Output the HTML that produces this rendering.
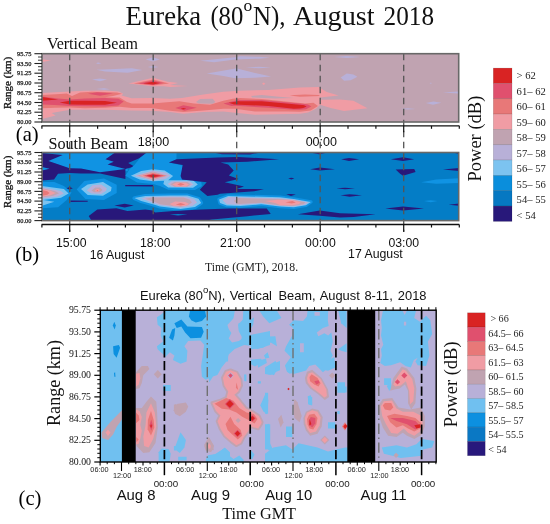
<!DOCTYPE html>
<html lang="en"><head><meta charset="utf-8"><title>Eureka (80N), August 2018</title>
<style>html,body{margin:0;padding:0;background:#fff}svg{display:block}</style></head>
<body>
<svg width="550" height="524" viewBox="0 0 550 524">
<rect width="550" height="524" fill="#fff"/>
<defs>
<clipPath id="clipA"><rect x="42.0" y="53.7" width="416.7" height="68.3"/></clipPath>
<clipPath id="clipB"><rect x="42.0" y="152.5" width="416.7" height="68.1"/></clipPath>
<clipPath id="clipC"><rect x="100.3" y="310.2" width="335.9" height="151.8"/></clipPath>
</defs>
<text x="125.6" y="25.3" font-family='"Liberation Serif", serif' font-size="28.00" text-anchor="start" fill="#111" textLength="75.6" lengthAdjust="spacingAndGlyphs">Eureka</text>
<text x="210.4" y="25.3" font-family='"Liberation Serif", serif' font-size="28.00" text-anchor="start" fill="#111" textLength="32.9" lengthAdjust="spacingAndGlyphs">(80</text>
<text x="253.0" y="25.3" font-family='"Liberation Serif", serif' font-size="28.00" text-anchor="start" fill="#111" textLength="32.6" lengthAdjust="spacingAndGlyphs">N),</text>
<text x="293.0" y="25.3" font-family='"Liberation Serif", serif' font-size="28.00" text-anchor="start" fill="#111" textLength="81.7" lengthAdjust="spacingAndGlyphs">August</text>
<text x="383.6" y="25.3" font-family='"Liberation Serif", serif' font-size="28.00" text-anchor="start" fill="#111" textLength="50.4" lengthAdjust="spacingAndGlyphs">2018</text>
<text x="243.6" y="10.9" font-family='"Liberation Serif", serif' font-size="17.50" text-anchor="start" fill="#111">o</text>
<g clip-path="url(#clipA)">
<rect x="42.0" y="53.7" width="416.7" height="68.3" fill="#c0a3b1"/>
<polygon points="98.0,62.6 101.5,63.3 98.0,63.9 96.0,63.3" fill="#b8b0d8" />
<polygon points="96.5,69.8 110.0,69.3 131.7,68.3 142.4,70.0 127.7,72.7 105.0,71.5" fill="#b8b0d8" />
<polygon points="92.0,79.6 100.0,78.6 107.0,79.6 100.0,81.2" fill="#b8b0d8" />
<polygon points="96.0,89.0 104.0,88.0 110.0,89.2 104.0,90.0" fill="#b8b0d8" opacity="0.8"/>
<polygon points="145.7,59.5 153.0,57.2 159.8,59.5 153.0,61.5" fill="#b8b0d8" />
<polygon points="147.7,67.0 153.0,66.0 158.4,67.0 153.0,68.0" fill="#b8b0d8" />
<polygon points="200.1,60.7 240.0,56.8 240.0,56.8 235.0,56.0 259.0,56.8 269.7,57.7 259.0,58.7 235.0,59.5 214.1,62.3" fill="#b8b0d8" />
<polygon points="245.7,67.6 259.0,66.8 271.1,67.5 259.0,68.3" fill="#b8b0d8" />
<polygon points="206.7,73.4 240.0,67.8 235.0,68.0 251.0,72.0 271.1,76.6 255.0,77.8 235.0,78.2 223.4,76.0" fill="#b8b0d8" />
<polygon points="334.1,57.1 346.8,56.0 360.1,57.1 346.8,58.1" fill="#b8b0d8" />
<polygon points="340.7,77.4 346.8,73.6 353.4,74.4 357.4,76.7 350.8,80.3 344.1,80.7" fill="#b8b0d8" />
<polygon points="425.8,103.0 433.5,101.4 441.4,102.8 433.0,104.8" fill="#b8b0d8" />
<polygon points="400.0,108.9 408.0,108.3 415.6,108.9 408.0,109.5" fill="#b8b0d8" />
<polygon points="442.7,92.6 458.0,91.6 458.0,93.5" fill="#b8b0d8" />
<polygon points="429.5,83.2 430.8,82.4 432.0,83.2 430.8,84.0" fill="#b8b0d8" opacity="0.7"/>
<polygon points="41.0,59.0 51.0,60.5 41.0,62.2" fill="#f09ca4" />
<polygon points="262.0,83.8 263.7,82.6 265.4,83.8 263.7,85.0" fill="#f09ca4" />
<polygon points="128.4,83.4 153.1,77.8 167.8,81.7 175.0,82.5 178.0,83.0 170.0,84.9 187.4,86.1 170.0,87.1 163.8,86.2 153.1,86.3" fill="#f09ca4" />
<polygon points="133.7,83.4 153.1,79.4 169.1,83.4 153.1,85.4" fill="#e87878" />
<polygon points="138.4,83.4 153.1,80.6 163.8,83.1 153.1,84.9" fill="#e0506e" />
<polygon points="143.1,83.3 153.1,81.7 159.8,83.0 153.1,84.5" fill="#d92323" />
<polygon points="41.0,93.0 70.0,91.6 84.0,90.8 105.0,90.6 119.0,91.6 123.2,93.7 121.5,95.5 131.7,98.3 151.8,98.0 170.0,98.8 182.0,98.1 203.4,94.5 223.4,91.8 240.0,90.7 268.4,90.0 300.0,87.4 318.7,87.0 326.7,92.0 338.7,95.5 320.0,97.4 321.4,99.8 340.0,99.4 353.4,100.8 367.5,108.3 344.0,111.0 330.7,108.1 320.0,104.8 316.0,108.8 308.0,112.4 300.0,113.7 288.4,114.1 255.0,114.8 235.0,112.8 223.4,111.4 203.4,112.1 183.4,113.7 170.0,112.1 151.8,110.8 131.7,110.6 105.0,109.8 70.0,109.8 51.6,113.1 55.6,115.6 41.0,119.2" fill="#f09ca4" />
<polygon points="196.0,102.1 200.1,99.0 212.7,98.8 215.4,102.1 212.7,103.8 198.7,103.4" fill="#c0a3b1" />
<polygon points="251.0,96.1 261.7,95.0 279.1,96.8 293.8,98.1 275.1,98.5 252.4,97.4" fill="#c0a3b1" />
<polygon points="41.0,95.0 60.0,94.0 66.7,93.4 72.0,96.0 80.0,92.6 92.0,91.8 105.0,92.0 117.0,92.6 122.0,93.7 113.0,96.0 105.0,97.2 119.7,97.4 127.0,102.1 131.7,103.4 151.8,103.4 170.0,102.1 179.4,101.2 194.0,103.4 210.0,104.8 223.4,100.8 232.8,98.8 240.0,98.1 261.7,99.0 305.0,103.4 313.4,102.8 318.0,106.1 310.7,110.5 300.0,111.7 288.4,111.4 255.0,111.4 235.0,108.8 223.4,108.8 203.4,110.4 183.4,112.1 170.0,110.8 151.8,108.1 131.7,108.1 119.7,106.8 105.0,107.8 85.0,108.2 70.0,107.6 55.0,107.8 41.0,108.4" fill="#e87878" />
<polygon points="289.8,95.3 305.0,94.5 318.7,95.0 320.0,96.1 300.0,96.8 293.8,96.1" fill="#e87878" />
<polygon points="41.0,96.5 58.0,98.6 70.0,99.5 85.0,98.5 105.0,98.1 118.4,98.8 123.7,101.4 118.4,105.5 105.0,106.5 85.0,106.3 70.0,106.0 55.0,105.0 41.0,104.5" fill="#e0506e" />
<polygon points="88.0,93.8 97.0,92.2 113.0,93.6 100.0,95.8" fill="#e0506e" />
<polygon points="175.3,108.1 183.4,105.2 196.7,107.8 184.7,110.8" fill="#e0506e" />
<polygon points="223.4,103.4 240.0,99.4 235.0,99.4 261.7,100.1 305.0,104.1 308.0,104.4 311.4,106.5 306.0,109.2 300.0,109.8 293.8,109.7 268.4,107.8 235.0,105.7 231.4,106.1" fill="#e0506e" />
<polygon points="41.0,96.9 58.2,99.4 41.0,100.8" fill="#d92323" />
<polygon points="59.6,102.5 69.8,100.7 85.0,100.8 105.0,100.9 117.0,102.8 105.0,104.8 85.0,104.8 69.8,104.4" fill="#d92323" />
<polygon points="180.7,108.8 183.4,108.0 186.3,108.8 183.4,109.6" fill="#d92323" />
<polygon points="228.8,102.8 240.0,100.9 235.0,101.2 261.7,101.2 305.0,105.2 304.0,105.3 306.7,106.5 303.3,108.1 300.0,108.5 293.8,108.8 268.4,106.1 235.0,104.4 234.1,104.4" fill="#d92323" />
</g>
<g clip-path="url(#clipB)">
<rect x="42.0" y="152.5" width="416.7" height="68.1" fill="#047dc6"/>
<polygon points="42.9,153.4 127.8,153.4 127.8,171.0 99.9,172.5 81.0,169.1 69.6,168.7 59.1,164.9 48.6,161.5 42.9,161.5" fill="#1093e3" />
<polygon points="41.9,182.1 54.3,182.1 63.9,185.9 71.5,192.4 66.7,200.0 58.1,207.3 41.9,208.2" fill="#1093e3" />
<polygon points="76.7,189.5 84.3,181.1 104.0,178.6 116.7,184.7 116.7,193.1 104.0,200.0 85.4,198.9" fill="#1093e3" />
<polygon points="41.9,185.9 63.9,189.1 68.6,193.5 61.0,197.7 42.9,200.0 54.3,201.7 41.9,205.7" fill="#7cc3f0" />
<polygon points="41.9,187.2 61.0,191.0 63.9,193.5 57.2,196.8 41.9,198.7" fill="#b8b0d8" />
<polygon points="41.9,188.2 54.9,190.9 59.1,193.3 53.4,195.8 41.9,197.5" fill="#c0a3b1" />
<polygon points="41.9,188.9 50.5,190.7 55.7,193.1 50.5,195.2 41.9,196.8" fill="#f09ca4" />
<polygon points="41.9,190.1 47.3,191.2 49.5,193.1 47.3,194.7 41.9,195.8" fill="#e87878" />
<polygon points="81.0,189.1 87.7,184.4 103.0,182.1 111.6,187.2 111.0,191.0 103.0,195.8 87.7,194.9" fill="#7cc3f0" />
<polygon points="86.8,190.5 92.5,185.3 101.1,184.4 106.8,188.2 105.9,191.0 101.1,193.9 91.5,193.5" fill="#b8b0d8" />
<polygon points="91.5,190.5 95.4,187.4 99.9,187.4 102.6,190.1 99.9,192.2 94.2,192.2" fill="#c0a3b1" />
<polygon points="94.8,190.7 96.9,189.1 98.8,189.3 99.8,190.5 98.2,191.4 95.9,191.4" fill="#f09ca4" />
<polygon points="96.5,190.7 97.5,190.1 98.4,190.7 97.5,191.2" fill="#e87878" />
<polygon points="41.0,153.0 62.7,155.0 48.4,161.0 58.0,164.3 69.6,168.3 81.0,168.6 100.0,172.2 125.4,169.0 107.6,164.4 113.7,161.7 105.5,159.3 115.1,152.5 146.7,152.5 139.2,158.2 128.2,163.0 134.4,166.5 125.4,169.0 125.4,179.1 100.0,173.4 81.0,173.4 69.6,173.0 58.0,173.8 54.0,179.4 41.0,180.5" fill="#28187a" />
<polygon points="41.0,166.8 49.5,168.7 41.0,170.6" fill="#1093e3" />
<polygon points="66.6,188.2 69.6,186.9 72.8,188.2 69.6,189.6" fill="#28187a" />
<polygon points="70.5,200.6 87.7,200.7 87.7,201.8 70.5,201.9" fill="#28187a" />
<polygon points="125.2,185.0 153.0,185.1 153.0,186.4 125.2,186.3" fill="#28187a" />
<polygon points="114.4,205.6 124.7,203.8 133.7,205.6 124.7,207.5" fill="#28187a" />
<polygon points="125.4,175.8 129.5,169.2 134.4,165.1 139.8,158.2 146.7,152.7 176.5,152.7 176.5,159.6 168.9,162.6 182.7,165.4 181.3,176.1 182.7,179.4 201.2,181.9 201.9,186.0 195.0,190.1 168.2,189.8 160.0,186.0 152.9,184.1 137.1,182.4" fill="#1093e3" />
<polygon points="130.9,175.8 141.2,170.9 152.9,169.2 164.6,170.6 168.2,172.7 173.1,176.1 168.2,180.2 193.0,180.2 197.8,184.4 193.0,187.8 168.2,187.4 163.4,183.9 164.1,180.9 164.6,180.8 152.9,181.3 139.8,179.5" fill="#7cc3f0" />
<polygon points="134.4,175.8 152.9,170.9 168.7,175.4 152.9,180.5" fill="#b8b0d8" />
<polygon points="134.4,175.8 152.9,170.6 166.2,172.7 170.3,175.7 165.5,179.1 152.9,180.8" fill="#b8b0d8" />
<polygon points="137.1,175.8 152.9,171.6 167.6,175.7 152.9,180.0" fill="#c0a3b1" />
<polygon points="139.8,175.8 152.9,172.4 165.2,175.7 152.9,179.3" fill="#f09ca4" />
<polygon points="142.6,175.8 152.9,173.1 166.2,175.8 152.9,178.6" fill="#e87878" />
<polygon points="144.7,175.8 152.9,173.8 163.5,175.8 152.9,177.9" fill="#e0506e" />
<polygon points="146.7,175.8 152.9,174.5 160.7,175.8 152.9,177.3" fill="#d92323" />
<polygon points="167.6,184.1 171.7,181.3 189.5,181.3 193.7,184.4 189.5,187.1 171.7,186.8" fill="#b8b0d8" />
<polygon points="170.3,184.2 174.4,181.9 187.5,182.0 190.9,184.4 187.5,186.8 174.4,186.7" fill="#c0a3b1" />
<polygon points="172.4,184.4 176.2,182.6 185.8,182.7 188.9,184.4 185.8,186.4 176.2,186.4" fill="#f09ca4" />
<polygon points="177.2,184.4 180.6,183.0 184.7,184.4 180.6,185.7" fill="#e87878" />
<polygon points="134.4,198.1 145.3,196.0 170.0,195.4 187.5,195.6 198.5,198.8 201.2,202.9 195.0,207.0 180.6,209.1 160.0,206.6 152.9,204.3 141.2,201.1" fill="#1093e3" stroke="#1093e3" stroke-width="4" stroke-linejoin="round"/>
<polygon points="134.4,198.1 145.3,196.0 170.0,195.4 187.5,195.6 198.5,198.8 201.2,202.9 195.0,207.0 180.6,209.1 160.0,206.6 152.9,204.3 141.2,201.1" fill="#7cc3f0" />
<polygon points="141.2,198.8 146.7,197.0 170.0,196.5 186.1,196.7 194.4,199.2 197.1,202.5 192.3,206.1 180.6,207.7 160.0,205.2 152.9,202.9 146.7,200.6" fill="#b8b0d8" />
<polygon points="145.3,198.8 152.0,197.6 170.0,197.4 183.4,197.5 189.5,199.5 191.9,202.5 188.2,205.2 180.6,206.9 160.0,204.3 155.0,201.9" fill="#c0a3b1" />
<polygon points="169.6,203.9 175.1,201.5 185.4,201.9 189.1,203.9 185.4,206.1 173.7,206.1" fill="#f09ca4" />
<polygon points="175.8,204.5 180.6,202.9 185.4,204.5 180.6,205.6" fill="#e87878" />
<polygon points="219.1,199.5 228.2,196.0 280.0,197.2 293.7,198.9 310.9,201.9 306.0,205.2 293.7,207.3 280.0,206.6 261.2,204.3 240.6,206.1 226.9,205.6 220.0,203.0" fill="#1093e3" stroke="#1093e3" stroke-width="3.5" stroke-linejoin="round"/>
<polygon points="219.1,199.5 228.2,196.0 280.0,197.2 293.7,198.9 310.9,201.9 306.0,205.2 293.7,207.3 280.0,206.6 261.2,204.3 240.6,206.1 226.9,205.6 220.0,203.0" fill="#7cc3f0" />
<polygon points="222.7,200.6 228.2,197.1 280.0,198.3 293.7,199.5 308.2,202.2 305.4,204.7 293.7,206.6 280.0,206.1 261.2,203.3 240.6,205.0 226.9,204.3" fill="#b8b0d8" />
<polygon points="233.7,201.1 237.9,198.1 280.0,199.0 293.0,199.9 305.4,202.2 303.4,204.3 293.0,206.1 280.0,205.5 261.2,202.8 237.9,203.9" fill="#c0a3b1" />
<polygon points="265.3,201.1 277.7,199.7 292.4,200.3 300.6,201.9 299.2,203.9 292.4,205.2 280.0,205.0 275.0,202.9" fill="#f09ca4" />
<polygon points="285.5,202.2 292.4,201.1 295.8,202.5 291.7,203.6" fill="#e87878" />
<polygon points="168.9,162.4 176.5,159.3 194.4,158.5 217.7,157.6 237.9,156.9 279.1,159.3 247.5,161.7 220.5,162.6 228.2,164.4 233.7,170.6 228.9,175.4 238.5,178.9 224.8,182.3 244.0,186.4 236.5,188.9 264.0,189.2 254.4,191.2 220.0,193.7 217.7,194.7 207.4,196.0 199.8,189.8 206.7,182.3 182.0,179.5 180.6,176.1 182.7,165.1" fill="#28187a" />
<polygon points="212.0,152.3 262.0,152.3 250.0,154.4 222.0,154.2" fill="#28187a" />
<polygon points="88.7,215.9 97.3,209.6 116.4,208.2 127.5,211.1 145.3,209.4 152.9,210.5 155.0,212.5 173.7,211.1 201.2,209.4 230.0,208.6 266.7,208.4 270.8,213.9 247.5,216.2 228.2,218.0 212.0,219.6 200.0,221.5 92.0,221.5" fill="#28187a" />
<polygon points="169.6,214.6 178.0,213.9 187.5,214.6 178.0,215.4" fill="#047dc6" />
<polygon points="310.2,169.2 319.8,167.6 335.0,169.2 319.8,170.6" fill="#28187a" />
<polygon points="309.0,152.3 329.0,152.3 319.0,154.2" fill="#28187a" />
<polygon points="341.1,159.3 349.0,158.0 359.2,159.3 349.0,161.0" fill="#28187a" />
<polygon points="288.2,178.2 291.3,177.8 294.4,178.2 291.3,179.5" fill="#28187a" />
<polygon points="286.2,194.3 291.0,193.9 295.8,194.6 291.0,196.0" fill="#28187a" />
<polygon points="336.3,188.2 345.0,187.8 355.0,188.5 345.0,189.3" fill="#28187a" />
<polygon points="340.5,195.3 349.6,194.2 362.0,195.3 349.6,196.7" fill="#28187a" />
<polygon points="297.9,214.3 319.8,210.5 340.0,213.2 375.7,214.3 353.7,217.0 340.0,217.6 319.8,215.7" fill="#28187a" />
<polygon points="390.8,159.3 403.0,157.3 414.2,159.3 403.0,161.0" fill="#28187a" />
<polygon points="395.7,169.5 414.2,169.0 415.6,172.0 403.0,175.8 399.8,173.4" fill="#28187a" />
<polygon points="443.0,169.5 459.0,167.9 459.0,170.9" fill="#28187a" />
<polygon points="448.6,204.7 459.0,203.6 459.0,205.7" fill="#28187a" />
<polygon points="385.3,208.4 403.0,206.5 423.9,208.4 403.0,210.4" fill="#28187a" />
<polygon points="452.0,152.3 459.0,152.3 459.0,154.0" fill="#28187a" />
<polygon points="421.1,182.3 436.2,179.5 459.0,178.2 459.0,183.0 436.2,183.7" fill="#1093e3" />
<polygon points="423.9,201.1 430.7,200.2 437.6,201.1 430.7,202.2" fill="#1093e3" />
</g>
<line x1="69.7" y1="53.7" x2="69.7" y2="232.0" stroke="#555" stroke-width="1.30" stroke-dasharray="6.5,4.5"/>
<line x1="153.2" y1="53.7" x2="153.2" y2="232.0" stroke="#555" stroke-width="1.30" stroke-dasharray="6.5,4.5"/>
<line x1="236.7" y1="53.7" x2="236.7" y2="232.0" stroke="#555" stroke-width="1.30" stroke-dasharray="6.5,4.5"/>
<line x1="320.2" y1="53.7" x2="320.2" y2="232.0" stroke="#555" stroke-width="1.30" stroke-dasharray="6.5,4.5"/>
<line x1="403.7" y1="53.7" x2="403.7" y2="232.0" stroke="#555" stroke-width="1.30" stroke-dasharray="6.5,4.5"/>
<rect x="42.0" y="53.7" width="416.7" height="68.3" fill="none" stroke="#686868" stroke-width="1.6"/>
<rect x="42.0" y="152.5" width="416.7" height="68.1" fill="none" stroke="#686868" stroke-width="1.6"/>
<line x1="34.4" y1="53.7" x2="42.0" y2="53.7" stroke="#222" stroke-width="1.10" />
<text x="31.5" y="55.8" font-family='"Liberation Serif", serif' font-size="6.40" text-anchor="end" fill="#222" stroke="#222" stroke-width="0.25">95.75</text>
<line x1="38.0" y1="57.0" x2="42.0" y2="57.0" stroke="#222" stroke-width="0.90" />
<line x1="38.0" y1="60.2" x2="42.0" y2="60.2" stroke="#222" stroke-width="0.90" />
<line x1="34.4" y1="63.5" x2="42.0" y2="63.5" stroke="#222" stroke-width="1.10" />
<text x="31.5" y="65.6" font-family='"Liberation Serif", serif' font-size="6.40" text-anchor="end" fill="#222" stroke="#222" stroke-width="0.25">93.50</text>
<line x1="38.0" y1="66.7" x2="42.0" y2="66.7" stroke="#222" stroke-width="0.90" />
<line x1="38.0" y1="70.0" x2="42.0" y2="70.0" stroke="#222" stroke-width="0.90" />
<line x1="34.4" y1="73.2" x2="42.0" y2="73.2" stroke="#222" stroke-width="1.10" />
<text x="31.5" y="75.3" font-family='"Liberation Serif", serif' font-size="6.40" text-anchor="end" fill="#222" stroke="#222" stroke-width="0.25">91.25</text>
<line x1="38.0" y1="76.5" x2="42.0" y2="76.5" stroke="#222" stroke-width="0.90" />
<line x1="38.0" y1="79.7" x2="42.0" y2="79.7" stroke="#222" stroke-width="0.90" />
<line x1="34.4" y1="83.0" x2="42.0" y2="83.0" stroke="#222" stroke-width="1.10" />
<text x="31.5" y="85.1" font-family='"Liberation Serif", serif' font-size="6.40" text-anchor="end" fill="#222" stroke="#222" stroke-width="0.25">89.00</text>
<line x1="38.0" y1="86.2" x2="42.0" y2="86.2" stroke="#222" stroke-width="0.90" />
<line x1="38.0" y1="89.5" x2="42.0" y2="89.5" stroke="#222" stroke-width="0.90" />
<line x1="34.4" y1="92.7" x2="42.0" y2="92.7" stroke="#222" stroke-width="1.10" />
<text x="31.5" y="94.8" font-family='"Liberation Serif", serif' font-size="6.40" text-anchor="end" fill="#222" stroke="#222" stroke-width="0.25">86.75</text>
<line x1="38.0" y1="96.0" x2="42.0" y2="96.0" stroke="#222" stroke-width="0.90" />
<line x1="38.0" y1="99.2" x2="42.0" y2="99.2" stroke="#222" stroke-width="0.90" />
<line x1="34.4" y1="102.5" x2="42.0" y2="102.5" stroke="#222" stroke-width="1.10" />
<text x="31.5" y="104.6" font-family='"Liberation Serif", serif' font-size="6.40" text-anchor="end" fill="#222" stroke="#222" stroke-width="0.25">84.50</text>
<line x1="38.0" y1="105.7" x2="42.0" y2="105.7" stroke="#222" stroke-width="0.90" />
<line x1="38.0" y1="109.0" x2="42.0" y2="109.0" stroke="#222" stroke-width="0.90" />
<line x1="34.4" y1="112.2" x2="42.0" y2="112.2" stroke="#222" stroke-width="1.10" />
<text x="31.5" y="114.3" font-family='"Liberation Serif", serif' font-size="6.40" text-anchor="end" fill="#222" stroke="#222" stroke-width="0.25">82.25</text>
<line x1="38.0" y1="115.5" x2="42.0" y2="115.5" stroke="#222" stroke-width="0.90" />
<line x1="38.0" y1="118.7" x2="42.0" y2="118.7" stroke="#222" stroke-width="0.90" />
<line x1="34.4" y1="122.0" x2="42.0" y2="122.0" stroke="#222" stroke-width="1.10" />
<text x="31.5" y="124.1" font-family='"Liberation Serif", serif' font-size="6.40" text-anchor="end" fill="#222" stroke="#222" stroke-width="0.25">80.00</text>
<text transform="translate(11.3,83.0) rotate(-90)" text-anchor="middle" font-family='"Liberation Serif", serif' font-size="11" fill="#111" stroke="#111" stroke-width="0.3">Range (km)</text>
<line x1="34.4" y1="152.5" x2="42.0" y2="152.5" stroke="#222" stroke-width="1.10" />
<text x="31.5" y="154.6" font-family='"Liberation Serif", serif' font-size="6.40" text-anchor="end" fill="#222" stroke="#222" stroke-width="0.25">95.75</text>
<line x1="38.0" y1="155.7" x2="42.0" y2="155.7" stroke="#222" stroke-width="0.90" />
<line x1="38.0" y1="159.0" x2="42.0" y2="159.0" stroke="#222" stroke-width="0.90" />
<line x1="34.4" y1="162.2" x2="42.0" y2="162.2" stroke="#222" stroke-width="1.10" />
<text x="31.5" y="164.3" font-family='"Liberation Serif", serif' font-size="6.40" text-anchor="end" fill="#222" stroke="#222" stroke-width="0.25">93.50</text>
<line x1="38.0" y1="165.5" x2="42.0" y2="165.5" stroke="#222" stroke-width="0.90" />
<line x1="38.0" y1="168.7" x2="42.0" y2="168.7" stroke="#222" stroke-width="0.90" />
<line x1="34.4" y1="172.0" x2="42.0" y2="172.0" stroke="#222" stroke-width="1.10" />
<text x="31.5" y="174.1" font-family='"Liberation Serif", serif' font-size="6.40" text-anchor="end" fill="#222" stroke="#222" stroke-width="0.25">91.25</text>
<line x1="38.0" y1="175.2" x2="42.0" y2="175.2" stroke="#222" stroke-width="0.90" />
<line x1="38.0" y1="178.4" x2="42.0" y2="178.4" stroke="#222" stroke-width="0.90" />
<line x1="34.4" y1="181.7" x2="42.0" y2="181.7" stroke="#222" stroke-width="1.10" />
<text x="31.5" y="183.8" font-family='"Liberation Serif", serif' font-size="6.40" text-anchor="end" fill="#222" stroke="#222" stroke-width="0.25">89.00</text>
<line x1="38.0" y1="184.9" x2="42.0" y2="184.9" stroke="#222" stroke-width="0.90" />
<line x1="38.0" y1="188.2" x2="42.0" y2="188.2" stroke="#222" stroke-width="0.90" />
<line x1="34.4" y1="191.4" x2="42.0" y2="191.4" stroke="#222" stroke-width="1.10" />
<text x="31.5" y="193.5" font-family='"Liberation Serif", serif' font-size="6.40" text-anchor="end" fill="#222" stroke="#222" stroke-width="0.25">86.75</text>
<line x1="38.0" y1="194.7" x2="42.0" y2="194.7" stroke="#222" stroke-width="0.90" />
<line x1="38.0" y1="197.9" x2="42.0" y2="197.9" stroke="#222" stroke-width="0.90" />
<line x1="34.4" y1="201.1" x2="42.0" y2="201.1" stroke="#222" stroke-width="1.10" />
<text x="31.5" y="203.2" font-family='"Liberation Serif", serif' font-size="6.40" text-anchor="end" fill="#222" stroke="#222" stroke-width="0.25">84.50</text>
<line x1="38.0" y1="204.4" x2="42.0" y2="204.4" stroke="#222" stroke-width="0.90" />
<line x1="38.0" y1="207.6" x2="42.0" y2="207.6" stroke="#222" stroke-width="0.90" />
<line x1="34.4" y1="210.9" x2="42.0" y2="210.9" stroke="#222" stroke-width="1.10" />
<text x="31.5" y="213.0" font-family='"Liberation Serif", serif' font-size="6.40" text-anchor="end" fill="#222" stroke="#222" stroke-width="0.25">82.25</text>
<line x1="38.0" y1="214.1" x2="42.0" y2="214.1" stroke="#222" stroke-width="0.90" />
<line x1="38.0" y1="217.4" x2="42.0" y2="217.4" stroke="#222" stroke-width="0.90" />
<line x1="34.4" y1="220.6" x2="42.0" y2="220.6" stroke="#222" stroke-width="1.10" />
<text x="31.5" y="222.7" font-family='"Liberation Serif", serif' font-size="6.40" text-anchor="end" fill="#222" stroke="#222" stroke-width="0.25">80.00</text>
<text transform="translate(11.3,181.8) rotate(-90)" text-anchor="middle" font-family='"Liberation Serif", serif' font-size="11" fill="#111" stroke="#111" stroke-width="0.3">Range (km)</text>
<line x1="41.6" y1="125.8" x2="459.3" y2="125.8" stroke="#111" stroke-width="1.30" />
<line x1="41.9" y1="125.8" x2="41.9" y2="128.8" stroke="#111" stroke-width="1.20" />
<line x1="69.7" y1="125.8" x2="69.7" y2="132.3" stroke="#111" stroke-width="1.20" />
<line x1="97.6" y1="125.8" x2="97.6" y2="128.8" stroke="#111" stroke-width="1.20" />
<line x1="125.4" y1="125.8" x2="125.4" y2="128.8" stroke="#111" stroke-width="1.20" />
<line x1="153.2" y1="125.8" x2="153.2" y2="132.3" stroke="#111" stroke-width="1.20" />
<line x1="181.0" y1="125.8" x2="181.0" y2="128.8" stroke="#111" stroke-width="1.20" />
<line x1="208.9" y1="125.8" x2="208.9" y2="128.8" stroke="#111" stroke-width="1.20" />
<line x1="236.7" y1="125.8" x2="236.7" y2="132.3" stroke="#111" stroke-width="1.20" />
<line x1="264.5" y1="125.8" x2="264.5" y2="128.8" stroke="#111" stroke-width="1.20" />
<line x1="292.4" y1="125.8" x2="292.4" y2="128.8" stroke="#111" stroke-width="1.20" />
<line x1="320.2" y1="125.8" x2="320.2" y2="132.3" stroke="#111" stroke-width="1.20" />
<line x1="348.0" y1="125.8" x2="348.0" y2="128.8" stroke="#111" stroke-width="1.20" />
<line x1="375.9" y1="125.8" x2="375.9" y2="128.8" stroke="#111" stroke-width="1.20" />
<line x1="403.7" y1="125.8" x2="403.7" y2="132.3" stroke="#111" stroke-width="1.20" />
<line x1="431.5" y1="125.8" x2="431.5" y2="128.8" stroke="#111" stroke-width="1.20" />
<line x1="459.3" y1="125.8" x2="459.3" y2="128.8" stroke="#111" stroke-width="1.20" />
<line x1="41.6" y1="224.5" x2="459.3" y2="224.5" stroke="#111" stroke-width="1.30" />
<line x1="41.9" y1="224.5" x2="41.9" y2="227.5" stroke="#111" stroke-width="1.20" />
<line x1="69.7" y1="224.5" x2="69.7" y2="231.8" stroke="#111" stroke-width="1.20" />
<line x1="97.6" y1="224.5" x2="97.6" y2="227.5" stroke="#111" stroke-width="1.20" />
<line x1="125.4" y1="224.5" x2="125.4" y2="227.5" stroke="#111" stroke-width="1.20" />
<line x1="153.2" y1="224.5" x2="153.2" y2="231.8" stroke="#111" stroke-width="1.20" />
<line x1="181.0" y1="224.5" x2="181.0" y2="227.5" stroke="#111" stroke-width="1.20" />
<line x1="208.9" y1="224.5" x2="208.9" y2="227.5" stroke="#111" stroke-width="1.20" />
<line x1="236.7" y1="224.5" x2="236.7" y2="231.8" stroke="#111" stroke-width="1.20" />
<line x1="264.5" y1="224.5" x2="264.5" y2="227.5" stroke="#111" stroke-width="1.20" />
<line x1="292.4" y1="224.5" x2="292.4" y2="227.5" stroke="#111" stroke-width="1.20" />
<line x1="320.2" y1="224.5" x2="320.2" y2="231.8" stroke="#111" stroke-width="1.20" />
<line x1="348.0" y1="224.5" x2="348.0" y2="227.5" stroke="#111" stroke-width="1.20" />
<line x1="375.9" y1="224.5" x2="375.9" y2="227.5" stroke="#111" stroke-width="1.20" />
<line x1="403.7" y1="224.5" x2="403.7" y2="231.8" stroke="#111" stroke-width="1.20" />
<line x1="431.5" y1="224.5" x2="431.5" y2="227.5" stroke="#111" stroke-width="1.20" />
<line x1="459.3" y1="224.5" x2="459.3" y2="227.5" stroke="#111" stroke-width="1.20" />
<text x="153.5" y="145.6" font-family='"Liberation Sans", sans-serif' font-size="12.50" text-anchor="middle" fill="#111">18:00</text>
<text x="321.3" y="145.6" font-family='"Liberation Sans", sans-serif' font-size="12.50" text-anchor="middle" fill="#111">00:00</text>
<text x="71.3" y="247.2" font-family='"Liberation Sans", sans-serif' font-size="12.25" text-anchor="middle" fill="#111">15:00</text>
<text x="155.3" y="247.2" font-family='"Liberation Sans", sans-serif' font-size="12.25" text-anchor="middle" fill="#111">18:00</text>
<text x="235.4" y="247.2" font-family='"Liberation Sans", sans-serif' font-size="12.25" text-anchor="middle" fill="#111">21:00</text>
<text x="320.4" y="247.2" font-family='"Liberation Sans", sans-serif' font-size="12.25" text-anchor="middle" fill="#111">00:00</text>
<text x="403.8" y="247.2" font-family='"Liberation Sans", sans-serif' font-size="12.25" text-anchor="middle" fill="#111">03:00</text>
<text x="117.0" y="259.2" font-family='"Liberation Sans", sans-serif' font-size="12.30" text-anchor="middle" fill="#111">16 August</text>
<text x="375.4" y="258.2" font-family='"Liberation Sans", sans-serif' font-size="12.30" text-anchor="middle" fill="#111">17 August</text>
<text x="205.0" y="270.6" font-family='"Liberation Serif", serif' font-size="11.70" text-anchor="start" fill="#222">Time (GMT), 2018.</text>
<text x="48.0" y="48.5" font-family='"Liberation Serif", serif' font-size="1.00" text-anchor="start" ></text>
<text x="46.9" y="49.1" font-family='"Liberation Serif", serif' font-size="16.00" text-anchor="start" fill="#111">Vertical Beam</text>
<text x="48.4" y="149.0" font-family='"Liberation Serif", serif' font-size="16.20" text-anchor="start" fill="#111">South Beam</text>
<text x="15.8" y="141.0" font-family='"Liberation Serif", serif' font-size="20.60" text-anchor="start" >(a)</text>
<text x="15.2" y="260.6" font-family='"Liberation Serif", serif' font-size="20.60" text-anchor="start" >(b)</text>
<text x="18.6" y="504.5" font-family='"Liberation Serif", serif' font-size="20.60" text-anchor="start" >(c)</text>
<rect x="493.3" y="68.10" width="18.7" height="15.33" fill="#d92323" stroke="rgba(0,0,0,0.18)" stroke-width="0.6"/>
<text x="516.6" y="78.9" font-family='"Liberation Serif", serif' font-size="10.60" text-anchor="start" fill="#222">&gt; 62</text>
<rect x="493.3" y="83.43" width="18.7" height="15.33" fill="#e0506e" stroke="rgba(0,0,0,0.18)" stroke-width="0.6"/>
<text x="516.6" y="94.5" font-family='"Liberation Serif", serif' font-size="10.60" text-anchor="start" fill="#222">61– 62</text>
<rect x="493.3" y="98.76" width="18.7" height="15.33" fill="#e87878" stroke="rgba(0,0,0,0.18)" stroke-width="0.6"/>
<text x="516.6" y="110.0" font-family='"Liberation Serif", serif' font-size="10.60" text-anchor="start" fill="#222">60– 61</text>
<rect x="493.3" y="114.09" width="18.7" height="15.33" fill="#f09ca4" stroke="rgba(0,0,0,0.18)" stroke-width="0.6"/>
<text x="516.6" y="125.6" font-family='"Liberation Serif", serif' font-size="10.60" text-anchor="start" fill="#222">59– 60</text>
<rect x="493.3" y="129.42" width="18.7" height="15.33" fill="#c0a3b1" stroke="rgba(0,0,0,0.18)" stroke-width="0.6"/>
<text x="516.6" y="141.1" font-family='"Liberation Serif", serif' font-size="10.60" text-anchor="start" fill="#222">58– 59</text>
<rect x="493.3" y="144.75" width="18.7" height="15.33" fill="#b8b0d8" stroke="rgba(0,0,0,0.18)" stroke-width="0.6"/>
<text x="516.6" y="156.7" font-family='"Liberation Serif", serif' font-size="10.60" text-anchor="start" fill="#222">57– 58</text>
<rect x="493.3" y="160.08" width="18.7" height="15.33" fill="#7cc3f0" stroke="rgba(0,0,0,0.18)" stroke-width="0.6"/>
<text x="516.6" y="172.2" font-family='"Liberation Serif", serif' font-size="10.60" text-anchor="start" fill="#222">56– 57</text>
<rect x="493.3" y="175.41" width="18.7" height="15.33" fill="#0a8edc" stroke="rgba(0,0,0,0.18)" stroke-width="0.6"/>
<text x="516.6" y="187.8" font-family='"Liberation Serif", serif' font-size="10.60" text-anchor="start" fill="#222">55– 56</text>
<rect x="493.3" y="190.74" width="18.7" height="15.33" fill="#0678c2" stroke="rgba(0,0,0,0.18)" stroke-width="0.6"/>
<text x="516.6" y="203.3" font-family='"Liberation Serif", serif' font-size="10.60" text-anchor="start" fill="#222">54– 55</text>
<rect x="493.3" y="206.07" width="18.7" height="15.33" fill="#28187a" stroke="rgba(0,0,0,0.18)" stroke-width="0.6"/>
<text x="516.6" y="218.9" font-family='"Liberation Serif", serif' font-size="10.60" text-anchor="start" fill="#222">&lt; 54</text>
<text transform="translate(481.3,138.6) rotate(-90)" text-anchor="middle" font-family='"Liberation Serif", serif' font-size="18.5" fill="#111">Power (dB)</text>
<g clip-path="url(#clipC)">
<rect x="100.3" y="310.2" width="335.9" height="151.8" fill="#b8b0d8"/>
<rect x="99" y="309" width="24" height="154" fill="#70c0f0"/>
<polygon points="166.8,309.5 250.1,309.5 250.1,335.0 270.0,331.0 270.0,345.0 257.4,349.1 250.1,345.7 244.1,345.1 234.7,349.1 228.7,354.4 226.7,361.1 221.4,367.8 217.4,375.0 213.0,376.4 209.2,382.5 208.8,378.3 205.7,379.8 201.9,376.8 201.1,366.1 202.7,355.4 204.2,344.7 200.4,340.4 188.2,340.9 184.4,346.2 187.4,350.8 186.6,361.5 180.5,363.8 172.9,360.0 174.4,355.4 169.8,352.3 165.3,356.9 164.5,355.4 157.6,349.3 156.9,346.2 163.0,341.6 160.7,335.5 161.5,327.9 157.6,324.8 156.9,317.2 161.5,314.2" fill="#70c0f0" />
<polygon points="227.4,325.0 233.4,318.4 235.0,309.8 243.4,309.8 242.7,319.7 240.1,322.4 238.1,323.7 241.4,331.7 242.7,338.4 238.7,341.1 232.1,342.4 228.7,338.4 231.4,333.1 228.7,329.0" fill="#b8b0d8" />
<polygon points="238.0,324.8 243.3,322.6 249.4,321.0 254.0,317.2 253.2,324.8 249.4,331.0 245.6,335.5 245.6,344.7 240.3,343.2 241.8,337.1 238.7,331.0" fill="#70c0f0" />
<polygon points="259.4,310.8 276.9,310.8 281.5,318.0 269.3,323.3 263.2,316.5" fill="#70c0f0" />
<polygon points="251.0,337.1 275.4,336.3 276.9,346.2 270.8,342.4 263.2,347.7 251.0,349.3" fill="#70c0f0" />
<polygon points="263.9,355.4 267.7,352.3 269.3,357.7 265.5,358.4" fill="#70c0f0" />
<polygon points="266.2,369.1 275.4,360.7 278.4,367.6 273.9,375.2 266.2,372.2" fill="#70c0f0" />
<polygon points="244.1,374.5 246.4,374.5 246.4,381.3 244.5,381.3" fill="#70c0f0" />
<polygon points="257.8,381.3 260.9,381.3 260.9,383.6 257.8,383.6" fill="#70c0f0" />
<polygon points="225.0,350.8 228.1,350.8 228.1,361.5 225.0,361.5" fill="#70c0f0" />
<polygon points="257.4,361.0 266.0,358.5 266.8,363.0 258.0,367.8" fill="#70c0f0" />
<polygon points="289.1,324.8 293.7,320.3 303.1,321.0 306.9,316.5 307.6,310.5 328.2,310.5 327.8,320.3 328.7,326.1 322.9,327.9 316.8,332.5 318.3,336.3 324.4,333.2 328.2,335.5 331.3,332.5 332.8,341.6 330.5,350.8 332.8,355.4 328.2,363.0 326.7,369.1 322.9,372.2 318.3,367.6 315.3,364.5 309.2,366.1 306.1,370.6 300.0,372.2 293.5,374.0 287.5,372.0 286.1,369.1 293.7,366.1 292.2,358.4 284.5,350.8 286.1,346.2 292.2,335.5 292.9,327.9" fill="#70c0f0" />
<polygon points="314.5,311.9 319.8,311.9 319.8,315.7 314.5,315.7" fill="#b8b0d8" />
<polygon points="300.0,343.2 303.8,343.2 303.8,352.3 300.0,352.3" fill="#b8b0d8" />
<polygon points="338.2,310.8 346.6,310.8 346.6,327.9 341.2,323.3" fill="#70c0f0" />
<polygon points="338.2,349.3 346.6,343.2 346.6,352.3 341.2,350.8" fill="#70c0f0" />
<polygon points="383.0,310.5 402.4,310.5 404.7,314.9 407.0,310.5 416.1,310.5 414.2,318.0 420.0,321.8 426.1,315.7 430.3,320.3 432.2,334.0 427.9,341.6 429.4,355.4 426.1,366.1 417.7,365.3 415.4,361.5 417.7,357.7 413.9,360.0 410.8,367.6 405.5,366.1 400.1,362.3 391.0,365.3 384.8,366.1 380.3,363.0 381.8,355.4 381.0,349.3 383.3,344.7 381.0,335.5 381.8,327.9 381.0,320.3" fill="#70c0f0" />
<polygon points="403.9,321.8 406.2,321.8 406.2,325.6 403.9,325.6" fill="#b8b0d8" />
<polygon points="384.1,378.3 391.0,378.3 391.0,385.0 384.1,385.0" fill="#70c0f0" />
<polygon points="158.6,452.2 161.6,448.4 168.5,449.1 170.8,453.7 169.3,462.9 158.6,462.9" fill="#70c0f0" />
<polygon points="163.2,385.0 170.8,385.0 170.8,391.1 163.2,391.1" fill="#70c0f0" />
<polygon points="173.9,446.1 176.0,446.1 176.0,450.6 173.9,450.6" fill="#70c0f0" />
<polygon points="174.4,449.1 180.5,432.3 185.9,440.0 184.4,447.6 179.8,452.9" fill="#70c0f0" />
<polygon points="178.2,456.8 186.6,456.8 186.6,460.6 178.2,460.6" fill="#70c0f0" />
<polygon points="205.7,462.9 208.0,455.2 217.2,453.7 224.8,447.6 230.0,452.2 230.0,462.9" fill="#70c0f0" />
<polygon points="251.1,359.6 261.1,358.8 262.6,361.9 255.0,366.5 251.1,364.2" fill="#70c0f0" />
<polygon points="265.6,367.2 273.3,363.4 280.0,361.1 280.0,370.3 268.7,374.8" fill="#70c0f0" />
<polygon points="260.3,405.4 265.6,393.2 267.9,397.7 265.6,406.9 267.2,414.5 263.4,411.5" fill="#70c0f0" />
<polygon points="244.6,374.8 246.1,374.8 246.1,381.0 244.6,381.0" fill="#70c0f0" />
<polygon points="265.6,425.2 268.7,423.7 268.7,435.0 266.4,435.0" fill="#70c0f0" />
<polygon points="205.8,459.7 207.3,456.1 214.5,454.6 224.7,448.1 226.2,453.2 233.5,459.0 239.3,455.4 243.6,459.7 243.6,462.6 205.8,462.6" fill="#70c0f0" />
<polygon points="260.4,405.2 266.9,395.0 268.4,400.8 266.9,413.9 264.0,409.5" fill="#70c0f0" />
<polygon points="266.2,431.4 268.4,423.4 269.8,431.4 269.1,441.5 272.7,448.8 276.2,451.7 268.4,450.3 266.9,443.0" fill="#70c0f0" />
<polygon points="250.9,450.3 254.5,454.6 252.4,459.0 250.2,459.0" fill="#70c0f0" />
<polygon points="265.0,367.6 273.4,362.3 276.5,367.6 271.3,374.9 265.0,373.9" fill="#70c0f0" />
<polygon points="308.0,395.9 312.2,397.0 312.2,405.4 308.0,404.3" fill="#70c0f0" />
<polygon points="265.0,392.8 268.1,392.8 268.1,413.8 265.0,413.8" fill="#70c0f0" />
<polygon points="265.0,424.3 270.2,424.3 270.2,449.5 265.0,449.5" fill="#70c0f0" />
<polygon points="286.0,426.4 292.3,426.4 292.3,436.9 286.0,436.9" fill="#70c0f0" />
<polygon points="265.0,453.7 273.4,447.4 286.0,445.3 292.3,449.5 298.6,443.2 317.5,447.4 328.0,451.6 335.9,449.5 345.0,447.4 347.9,447.4 347.9,463.1 265.0,463.1" fill="#70c0f0" />
<polygon points="328.0,422.2 335.3,422.2 335.3,428.5 328.0,428.5" fill="#70c0f0" />
<polygon points="337.4,382.3 345.0,382.3 345.0,392.8 337.4,392.8" fill="#70c0f0" />
<polygon points="284.9,365.5 292.3,355.0 317.5,355.0 311.2,361.3 300.7,365.5 294.4,367.6 290.2,373.9 287.0,371.8" fill="#70c0f0" />
<polygon points="321.7,363.4 334.3,357.1 335.3,367.6 328.0,370.7 322.7,369.7" fill="#70c0f0" />
<polygon points="387.0,386.5 390.2,379.1 392.3,388.6 389.1,390.7" fill="#70c0f0" />
<polygon points="381.8,447.4 396.5,445.3 407.0,447.4 416.4,444.2 421.7,439.0 434.3,441.1 432.2,447.4 422.7,449.5 421.7,455.8 400.7,457.9 392.3,455.8 383.9,453.7" fill="#70c0f0" />
<polygon points="329.0,425.5 332.1,423.2 335.1,426.2 332.1,428.5" fill="#70c0f0" />
<polygon points="307.6,396.5 310.7,394.9 312.2,403.3 309.2,404.8" fill="#70c0f0" />
<polygon points="343.5,386.5 346.6,386.5 346.6,392.6 343.5,392.6" fill="#70c0f0" />
<polygon points="337.4,411.0 339.7,411.0 339.7,414.0 337.4,414.0" fill="#70c0f0" />
<polygon points="112.8,325.6 114.3,321.8 115.8,325.6 114.6,329.4" fill="#0c90e0" />
<polygon points="113.1,346.2 118.9,345.0 120.1,347.7 116.6,357.7 113.6,353.9" fill="#0c90e0" />
<polygon points="114.0,372.9 115.1,372.2 115.5,376.8 114.3,376.8" fill="#0c90e0" />
<polygon points="188.9,316.5 190.0,310.5 205.0,310.5 206.2,316.5 201.9,321.0 195.8,322.6 191.2,320.3" fill="#0c90e0" />
<polygon points="169.1,337.8 172.1,329.4 175.2,327.9 174.4,335.5 172.9,340.4" fill="#0c90e0" />
<polygon points="174.4,323.3 181.3,319.5 187.4,326.4 201.9,327.1 203.7,331.7 201.1,337.8 190.5,338.3 185.1,332.5 181.3,326.4 176.7,327.9" fill="#0c90e0" />
<polygon points="136.0,372.2 141.8,366.1 147.9,366.1 149.4,369.1 143.3,375.2 141.8,382.9 139.5,388.2 136.0,389.0" fill="#c0a3b1" />
<polygon points="136.0,373.7 139.5,372.9 140.3,378.3 138.7,384.4 136.0,386.7" fill="#f09ca4" />
<polygon points="153.8,374.3 157.8,370.1 161.8,374.3 157.8,378.5" fill="#c0a3b1" />
<polygon points="101.5,432.6 110.9,421.4 122.2,410.1 122.2,419.2 116.7,426.8 113.1,434.5 108.2,439.9 101.8,438.1" fill="#c0a3b1" />
<polygon points="105.5,432.6 108.0,429.7 110.5,432.6 108.0,435.9" fill="#f09ca4" />
<polygon points="136.0,407.9 141.8,407.9 146.4,401.8 151.0,396.5 156.3,401.8 157.1,412.5 157.8,427.7 155.5,443.0 149.4,452.2 143.3,452.9 136.5,446.1 136.0,438.4" fill="#c0a3b1" />
<polygon points="146.4,412.5 151.0,403.3 154.8,412.5 156.3,426.2 153.3,438.4 148.7,447.6 144.1,446.1 143.3,436.9 145.6,424.7" fill="#f09ca4" />
<polygon points="147.9,420.1 151.0,411.0 153.7,420.1 154.3,427.7 151.0,435.4 147.6,429.3" fill="#e87878" />
<polygon points="149.4,425.5 151.3,419.4 152.8,425.5 151.3,430.8" fill="#e0506e" />
<polygon points="150.2,425.9 151.1,423.9 152.0,425.9 151.1,428.1" fill="#d92323" />
<polygon points="136.0,409.4 139.5,411.0 141.8,417.1 140.3,424.7 141.8,430.8 140.3,438.4 138.7,443.8 136.0,444.5" fill="#f09ca4" />
<polygon points="136.0,412.5 138.7,415.5 139.5,420.1 136.0,423.2" fill="#e87878" />
<polygon points="136.0,436.9 138.7,439.2 136.5,442.3" fill="#e87878" />
<polygon points="173.9,404.8 176.0,404.1 176.9,407.9 176.0,411.0 173.9,410.2" fill="#c0a3b1" />
<polygon points="173.7,410.2 176.7,404.1 185.9,402.6 188.2,406.4 185.9,411.7 179.8,416.3 175.2,414.0" fill="#c0a3b1" />
<polygon points="204.2,446.1 208.8,436.9 214.1,446.1 211.1,452.2 205.7,450.6" fill="#c0a3b1" />
<polygon points="207.7,445.3 209.2,443.0 210.8,446.8 209.2,450.3" fill="#f09ca4" />
<polygon points="222.9,377.9 226.0,371.8 230.5,370.3 236.6,372.6 240.5,379.4 241.2,385.5 238.2,391.6 234.4,394.7 239.7,400.8 245.8,408.4 251.9,411.5 258.8,416.1 261.8,422.2 261.1,424.1 258.2,428.5 250.2,426.3 248.0,431.4 243.6,437.2 240.7,443.0 236.4,445.2 231.3,441.5 224.7,435.7 220.4,428.5 217.5,421.2 220.4,415.4 216.0,411.0 212.4,403.0 219.8,400.8 226.7,397.7 228.2,391.6 224.4,385.5" fill="#c0a3b1" stroke="#c0a3b1" stroke-width="3.6" stroke-linejoin="round"/>
<polygon points="222.9,377.9 226.0,371.8 230.5,370.3 236.6,372.6 240.5,379.4 241.2,385.5 238.2,391.6 234.4,394.7 239.7,400.8 245.8,408.4 251.9,411.5 258.8,416.1 261.8,422.2 261.1,424.1 258.2,428.5 250.2,426.3 248.0,431.4 243.6,437.2 240.7,443.0 236.4,445.2 231.3,441.5 224.7,435.7 220.4,428.5 217.5,421.2 220.4,415.4 216.0,411.0 212.4,403.0 219.8,400.8 226.7,397.7 228.2,391.6 224.4,385.5" fill="#f09ca4" />
<polygon points="236.6,382.5 238.2,390.1 235.9,387.8" fill="#e87878" />
<polygon points="214.5,403.7 226.2,397.9 233.5,400.8 239.3,408.1 246.5,412.5 253.8,413.9 257.5,419.0 254.5,423.4 248.0,419.7 242.2,416.8 236.4,412.5 229.1,409.5 221.8,408.8" fill="#e87878" />
<polygon points="225.5,424.1 230.5,416.8 234.2,424.1 240.7,429.9 242.2,435.7 237.8,439.4 232.0,434.3 227.6,429.9" fill="#e87878" />
<polygon points="224.8,404.0 229.8,399.0 234.8,404.0 229.8,409.0" fill="#e0506e" />
<polygon points="226.0,404.0 229.8,400.2 233.6,404.0 229.8,407.8" fill="#d92323" />
<polygon points="249.0,418.3 252.4,414.9 255.8,418.3 252.4,421.7" fill="#e0506e" />
<polygon points="250.0,418.3 252.4,415.9 254.8,418.3 252.4,420.7" fill="#d92323" />
<polygon points="233.7,433.5 237.5,429.7 241.3,433.5 237.5,437.3" fill="#e0506e" />
<polygon points="234.8,433.5 237.5,430.8 240.2,433.5 237.5,436.2" fill="#d92323" />
<polygon points="227.1,375.6 230.5,372.2 233.9,375.6 230.5,379.0" fill="#b8b0d8" />
<polygon points="228.2,375.6 230.5,373.3 232.8,375.6 230.5,377.9" fill="#e0506e" />
<polygon points="235.5,420.5 238.1,417.9 240.7,420.5 238.1,423.1" fill="#c0a3b1" />
<polygon points="204.4,444.5 208.7,437.2 213.1,444.5 213.8,450.3 205.8,449.5" fill="#c0a3b1" />
<polygon points="208.0,445.2 209.3,443.0 210.8,445.9 210.2,448.8 208.4,448.5" fill="#f09ca4" />
<polygon points="304.9,378.1 307.0,371.8 312.2,369.7 321.7,378.1 328.0,389.6 329.0,397.0 324.8,400.1 317.5,393.8 310.1,388.6 305.9,383.3" fill="#c0a3b1" />
<polygon points="307.0,378.1 308.5,373.5 312.2,372.2 320.6,379.1 326.3,389.6 326.9,395.9 324.4,397.6 318.5,392.4 311.6,387.5 307.6,382.3" fill="#f09ca4" />
<polygon points="309.5,377.0 311.6,374.3 317.5,378.1 320.6,383.3 318.5,386.5 314.3,384.4 310.1,381.2" fill="#e87878" />
<polygon points="314.3,381.2 318.5,380.2 319.6,382.7 316.4,384.4" fill="#e0506e" />
<polygon points="303.4,418.0 305.9,411.7 312.2,408.5 318.5,410.0 322.7,416.9 321.7,426.4 317.5,433.7 310.1,435.8 305.9,430.6 303.8,424.3" fill="#c0a3b1" />
<polygon points="304.9,418.0 307.0,412.7 312.2,410.2 317.5,411.7 320.6,417.6 319.6,425.3 316.0,431.6 310.1,433.1 307.0,428.5 305.3,423.2" fill="#f09ca4" />
<polygon points="307.0,419.0 309.1,414.8 314.3,413.8 317.5,418.0 316.4,424.3 313.3,429.5 309.5,428.5 307.6,424.3" fill="#e87878" />
<polygon points="308.7,421.1 310.8,416.9 315.4,418.0 315.4,423.2 312.2,427.4 309.5,425.3" fill="#e0506e" />
<polygon points="309.7,419.0 311.4,424.3 309.3,425.5" fill="#d92323" />
<polygon points="320.2,440.0 324.8,435.4 329.4,440.0 324.8,444.6" fill="#c0a3b1" />
<polygon points="321.8,440.0 324.8,437.0 327.8,440.0 324.8,443.0" fill="#f09ca4" />
<polygon points="329.0,375.6 332.2,372.4 335.4,375.6 332.2,378.8" fill="#c0a3b1" />
<polygon points="294.4,399.1 297.5,402.2 301.7,415.9 299.6,422.2 294.4,418.0 293.3,407.5" fill="#c0a3b1" />
<polygon points="278.0,419.0 281.4,414.8 283.5,422.2 280.7,427.4" fill="#c0a3b1" />
<polygon points="287.3,389.0 288.5,387.8 289.7,389.0 288.5,390.2" fill="#d92323" />
<polygon points="342.0,426.5 345.0,422.3 347.6,426.0 345.0,430.5" fill="#e87878" />
<polygon points="343.3,426.5 345.2,424.0 347.6,426.0 345.2,429.0" fill="#d92323" />
<polygon points="390.2,390.7 393.3,378.1 401.7,366.5 407.0,368.6 414.3,378.1 416.4,388.6 415.4,403.3 411.2,409.6 408.0,403.3 408.0,390.7 404.9,384.4 399.6,388.6 394.4,389.6" fill="#c0a3b1" />
<polygon points="393.3,384.4 396.5,378.1 402.8,369.3 405.9,370.7 412.2,379.1 414.3,388.6 413.3,401.2 410.1,404.3 409.1,390.7 405.9,381.2 400.7,385.4 395.4,386.5" fill="#f09ca4" />
<polygon points="401.3,375.4 404.3,372.4 407.3,375.4 404.3,378.4" fill="#e0506e" />
<polygon points="394.9,381.9 397.5,379.3 400.1,381.9 397.5,384.5" fill="#e0506e" />
<polygon points="378.6,405.4 382.8,399.1 392.3,398.0 398.6,407.5 410.1,409.6 420.6,407.5 424.8,415.9 424.8,426.4 421.7,434.8 414.3,439.0 407.0,435.8 402.8,432.7 396.5,436.9 388.1,435.8 382.8,427.4 379.7,418.0" fill="#c0a3b1" />
<polygon points="380.7,406.4 383.9,401.2 391.9,400.5 396.5,408.5 402.8,411.7 413.3,411.7 421.7,415.9 422.7,425.3 420.0,431.6 414.3,435.8 408.0,432.7 403.8,428.5 397.5,433.7 391.2,433.1 386.0,424.3 382.2,415.9" fill="#f09ca4" />
<polygon points="382.8,405.4 384.9,402.9 391.2,402.9 393.3,407.5 390.2,410.6 384.9,409.6" fill="#e87878" />
<polygon points="387.0,415.9 394.4,413.8 407.0,415.9 415.4,418.0 421.3,423.2 420.0,428.5 414.3,431.6 408.0,428.5 402.8,425.3 396.5,427.4 390.2,422.2" fill="#e87878" />
<polygon points="390.2,418.0 402.8,418.0 415.4,421.1 420.6,426.4 415.4,429.5 407.0,424.3 396.5,421.1" fill="#e0506e" />
<polygon points="414.3,425.3 420.0,424.3 420.6,427.4 416.4,428.5" fill="#d92323" />
<polygon points="393.5,455.3 396.1,452.7 398.7,455.3 396.1,457.9" fill="#c0a3b1" />
</g>
<rect x="121.9" y="310.2" width="13.8" height="151.8" fill="#000"/>
<rect x="347.3" y="310.2" width="27.9" height="151.8" fill="#000"/>
<line x1="164.4" y1="310.2" x2="164.4" y2="462.0" stroke="#000" stroke-width="1.70" stroke-dasharray="9.3,3.4"/>
<line x1="164.4" y1="462.0" x2="164.4" y2="475.2" stroke="#000" stroke-width="1.50" />
<line x1="250.2" y1="310.2" x2="250.2" y2="462.0" stroke="#000" stroke-width="1.70" stroke-dasharray="9.3,3.4"/>
<line x1="250.2" y1="462.0" x2="250.2" y2="475.2" stroke="#000" stroke-width="1.50" />
<line x1="335.9" y1="310.2" x2="335.9" y2="462.0" stroke="#000" stroke-width="1.70" stroke-dasharray="9.3,3.4"/>
<line x1="335.9" y1="462.0" x2="335.9" y2="475.2" stroke="#000" stroke-width="1.50" />
<line x1="421.6" y1="310.2" x2="421.6" y2="462.0" stroke="#000" stroke-width="1.70" stroke-dasharray="9.3,3.4"/>
<line x1="421.6" y1="462.0" x2="421.6" y2="475.2" stroke="#000" stroke-width="1.50" />
<line x1="207.3" y1="310.2" x2="207.3" y2="462.0" stroke="#707070" stroke-width="1.40" stroke-dasharray="10.3,3.6,1.4,3.6"/>
<line x1="293.0" y1="310.2" x2="293.0" y2="462.0" stroke="#707070" stroke-width="1.40" stroke-dasharray="10.3,3.6,1.4,3.6"/>
<line x1="378.8" y1="310.2" x2="378.8" y2="462.0" stroke="#707070" stroke-width="1.40" stroke-dasharray="10.3,3.6,1.4,3.6"/>
<rect x="100.3" y="310.2" width="335.9" height="151.8" fill="none" stroke="#000" stroke-width="1.4"/>
<line x1="94.3" y1="310.2" x2="100.3" y2="310.2" stroke="#000" stroke-width="1.20" />
<text x="91.0" y="313.3" font-family='"Liberation Serif", serif' font-size="9.80" text-anchor="end" fill="#111">95.75</text>
<line x1="97.3" y1="314.5" x2="100.3" y2="314.5" stroke="#000" stroke-width="1.00" />
<line x1="97.3" y1="318.9" x2="100.3" y2="318.9" stroke="#000" stroke-width="1.00" />
<line x1="97.3" y1="323.2" x2="100.3" y2="323.2" stroke="#000" stroke-width="1.00" />
<line x1="97.3" y1="327.5" x2="100.3" y2="327.5" stroke="#000" stroke-width="1.00" />
<line x1="94.3" y1="331.9" x2="100.3" y2="331.9" stroke="#000" stroke-width="1.20" />
<text x="91.0" y="335.0" font-family='"Liberation Serif", serif' font-size="9.80" text-anchor="end" fill="#111">93.50</text>
<line x1="97.3" y1="336.2" x2="100.3" y2="336.2" stroke="#000" stroke-width="1.00" />
<line x1="97.3" y1="340.6" x2="100.3" y2="340.6" stroke="#000" stroke-width="1.00" />
<line x1="97.3" y1="344.9" x2="100.3" y2="344.9" stroke="#000" stroke-width="1.00" />
<line x1="97.3" y1="349.2" x2="100.3" y2="349.2" stroke="#000" stroke-width="1.00" />
<line x1="94.3" y1="353.6" x2="100.3" y2="353.6" stroke="#000" stroke-width="1.20" />
<text x="91.0" y="356.7" font-family='"Liberation Serif", serif' font-size="9.80" text-anchor="end" fill="#111">91.25</text>
<line x1="97.3" y1="357.9" x2="100.3" y2="357.9" stroke="#000" stroke-width="1.00" />
<line x1="97.3" y1="362.2" x2="100.3" y2="362.2" stroke="#000" stroke-width="1.00" />
<line x1="97.3" y1="366.6" x2="100.3" y2="366.6" stroke="#000" stroke-width="1.00" />
<line x1="97.3" y1="370.9" x2="100.3" y2="370.9" stroke="#000" stroke-width="1.00" />
<line x1="94.3" y1="375.3" x2="100.3" y2="375.3" stroke="#000" stroke-width="1.20" />
<text x="91.0" y="378.4" font-family='"Liberation Serif", serif' font-size="9.80" text-anchor="end" fill="#111">89.00</text>
<line x1="97.3" y1="379.6" x2="100.3" y2="379.6" stroke="#000" stroke-width="1.00" />
<line x1="97.3" y1="383.9" x2="100.3" y2="383.9" stroke="#000" stroke-width="1.00" />
<line x1="97.3" y1="388.3" x2="100.3" y2="388.3" stroke="#000" stroke-width="1.00" />
<line x1="97.3" y1="392.6" x2="100.3" y2="392.6" stroke="#000" stroke-width="1.00" />
<line x1="94.3" y1="396.9" x2="100.3" y2="396.9" stroke="#000" stroke-width="1.20" />
<text x="91.0" y="400.0" font-family='"Liberation Serif", serif' font-size="9.80" text-anchor="end" fill="#111">86.75</text>
<line x1="97.3" y1="401.3" x2="100.3" y2="401.3" stroke="#000" stroke-width="1.00" />
<line x1="97.3" y1="405.6" x2="100.3" y2="405.6" stroke="#000" stroke-width="1.00" />
<line x1="97.3" y1="410.0" x2="100.3" y2="410.0" stroke="#000" stroke-width="1.00" />
<line x1="97.3" y1="414.3" x2="100.3" y2="414.3" stroke="#000" stroke-width="1.00" />
<line x1="94.3" y1="418.6" x2="100.3" y2="418.6" stroke="#000" stroke-width="1.20" />
<text x="91.0" y="421.7" font-family='"Liberation Serif", serif' font-size="9.80" text-anchor="end" fill="#111">84.50</text>
<line x1="97.3" y1="423.0" x2="100.3" y2="423.0" stroke="#000" stroke-width="1.00" />
<line x1="97.3" y1="427.3" x2="100.3" y2="427.3" stroke="#000" stroke-width="1.00" />
<line x1="97.3" y1="431.6" x2="100.3" y2="431.6" stroke="#000" stroke-width="1.00" />
<line x1="97.3" y1="436.0" x2="100.3" y2="436.0" stroke="#000" stroke-width="1.00" />
<line x1="94.3" y1="440.3" x2="100.3" y2="440.3" stroke="#000" stroke-width="1.20" />
<text x="91.0" y="443.4" font-family='"Liberation Serif", serif' font-size="9.80" text-anchor="end" fill="#111">82.25</text>
<line x1="97.3" y1="444.7" x2="100.3" y2="444.7" stroke="#000" stroke-width="1.00" />
<line x1="97.3" y1="449.0" x2="100.3" y2="449.0" stroke="#000" stroke-width="1.00" />
<line x1="97.3" y1="453.3" x2="100.3" y2="453.3" stroke="#000" stroke-width="1.00" />
<line x1="97.3" y1="457.7" x2="100.3" y2="457.7" stroke="#000" stroke-width="1.00" />
<line x1="94.3" y1="462.0" x2="100.3" y2="462.0" stroke="#000" stroke-width="1.20" />
<text x="91.0" y="465.1" font-family='"Liberation Serif", serif' font-size="9.80" text-anchor="end" fill="#111">80.00</text>
<text transform="translate(59.6,383) rotate(-90)" text-anchor="middle" font-family='"Liberation Serif", serif' font-size="18.1" fill="#111">Range (km)</text>
<line x1="100.1" y1="310.2" x2="100.1" y2="307.2" stroke="#000" stroke-width="1.00" />
<line x1="100.1" y1="462.0" x2="100.1" y2="465.5" stroke="#000" stroke-width="1.10" />
<line x1="107.2" y1="310.2" x2="107.2" y2="307.2" stroke="#000" stroke-width="1.00" />
<line x1="107.2" y1="462.0" x2="107.2" y2="464.2" stroke="#000" stroke-width="1.00" />
<line x1="114.4" y1="310.2" x2="114.4" y2="307.2" stroke="#000" stroke-width="1.00" />
<line x1="114.4" y1="462.0" x2="114.4" y2="464.2" stroke="#000" stroke-width="1.00" />
<line x1="121.5" y1="310.2" x2="121.5" y2="307.2" stroke="#000" stroke-width="1.00" />
<line x1="121.5" y1="462.0" x2="121.5" y2="471.0" stroke="#000" stroke-width="1.10" />
<line x1="128.7" y1="310.2" x2="128.7" y2="307.2" stroke="#000" stroke-width="1.00" />
<line x1="128.7" y1="462.0" x2="128.7" y2="464.2" stroke="#000" stroke-width="1.00" />
<line x1="135.8" y1="310.2" x2="135.8" y2="307.2" stroke="#000" stroke-width="1.00" />
<line x1="135.8" y1="462.0" x2="135.8" y2="464.2" stroke="#000" stroke-width="1.00" />
<line x1="143.0" y1="310.2" x2="143.0" y2="307.2" stroke="#000" stroke-width="1.00" />
<line x1="143.0" y1="462.0" x2="143.0" y2="465.5" stroke="#000" stroke-width="1.10" />
<line x1="150.1" y1="310.2" x2="150.1" y2="307.2" stroke="#000" stroke-width="1.00" />
<line x1="150.1" y1="462.0" x2="150.1" y2="464.2" stroke="#000" stroke-width="1.00" />
<line x1="157.3" y1="310.2" x2="157.3" y2="307.2" stroke="#000" stroke-width="1.00" />
<line x1="157.3" y1="462.0" x2="157.3" y2="464.2" stroke="#000" stroke-width="1.00" />
<line x1="164.4" y1="310.2" x2="164.4" y2="307.2" stroke="#000" stroke-width="1.00" />
<line x1="171.5" y1="310.2" x2="171.5" y2="307.2" stroke="#000" stroke-width="1.00" />
<line x1="171.5" y1="462.0" x2="171.5" y2="464.2" stroke="#000" stroke-width="1.00" />
<line x1="178.7" y1="310.2" x2="178.7" y2="307.2" stroke="#000" stroke-width="1.00" />
<line x1="178.7" y1="462.0" x2="178.7" y2="464.2" stroke="#000" stroke-width="1.00" />
<line x1="185.8" y1="310.2" x2="185.8" y2="307.2" stroke="#000" stroke-width="1.00" />
<line x1="185.8" y1="462.0" x2="185.8" y2="465.5" stroke="#000" stroke-width="1.10" />
<line x1="193.0" y1="310.2" x2="193.0" y2="307.2" stroke="#000" stroke-width="1.00" />
<line x1="193.0" y1="462.0" x2="193.0" y2="464.2" stroke="#000" stroke-width="1.00" />
<line x1="200.1" y1="310.2" x2="200.1" y2="307.2" stroke="#000" stroke-width="1.00" />
<line x1="200.1" y1="462.0" x2="200.1" y2="464.2" stroke="#000" stroke-width="1.00" />
<line x1="207.3" y1="310.2" x2="207.3" y2="307.2" stroke="#000" stroke-width="1.00" />
<line x1="207.3" y1="462.0" x2="207.3" y2="471.0" stroke="#000" stroke-width="1.10" />
<line x1="214.4" y1="310.2" x2="214.4" y2="307.2" stroke="#000" stroke-width="1.00" />
<line x1="214.4" y1="462.0" x2="214.4" y2="464.2" stroke="#000" stroke-width="1.00" />
<line x1="221.6" y1="310.2" x2="221.6" y2="307.2" stroke="#000" stroke-width="1.00" />
<line x1="221.6" y1="462.0" x2="221.6" y2="464.2" stroke="#000" stroke-width="1.00" />
<line x1="228.7" y1="310.2" x2="228.7" y2="307.2" stroke="#000" stroke-width="1.00" />
<line x1="228.7" y1="462.0" x2="228.7" y2="465.5" stroke="#000" stroke-width="1.10" />
<line x1="235.9" y1="310.2" x2="235.9" y2="307.2" stroke="#000" stroke-width="1.00" />
<line x1="235.9" y1="462.0" x2="235.9" y2="464.2" stroke="#000" stroke-width="1.00" />
<line x1="243.0" y1="310.2" x2="243.0" y2="307.2" stroke="#000" stroke-width="1.00" />
<line x1="243.0" y1="462.0" x2="243.0" y2="464.2" stroke="#000" stroke-width="1.00" />
<line x1="250.2" y1="310.2" x2="250.2" y2="307.2" stroke="#000" stroke-width="1.00" />
<line x1="257.3" y1="310.2" x2="257.3" y2="307.2" stroke="#000" stroke-width="1.00" />
<line x1="257.3" y1="462.0" x2="257.3" y2="464.2" stroke="#000" stroke-width="1.00" />
<line x1="264.4" y1="310.2" x2="264.4" y2="307.2" stroke="#000" stroke-width="1.00" />
<line x1="264.4" y1="462.0" x2="264.4" y2="464.2" stroke="#000" stroke-width="1.00" />
<line x1="271.6" y1="310.2" x2="271.6" y2="307.2" stroke="#000" stroke-width="1.00" />
<line x1="271.6" y1="462.0" x2="271.6" y2="465.5" stroke="#000" stroke-width="1.10" />
<line x1="278.7" y1="310.2" x2="278.7" y2="307.2" stroke="#000" stroke-width="1.00" />
<line x1="278.7" y1="462.0" x2="278.7" y2="464.2" stroke="#000" stroke-width="1.00" />
<line x1="285.9" y1="310.2" x2="285.9" y2="307.2" stroke="#000" stroke-width="1.00" />
<line x1="285.9" y1="462.0" x2="285.9" y2="464.2" stroke="#000" stroke-width="1.00" />
<line x1="293.0" y1="310.2" x2="293.0" y2="307.2" stroke="#000" stroke-width="1.00" />
<line x1="293.0" y1="462.0" x2="293.0" y2="471.0" stroke="#000" stroke-width="1.10" />
<line x1="300.2" y1="310.2" x2="300.2" y2="307.2" stroke="#000" stroke-width="1.00" />
<line x1="300.2" y1="462.0" x2="300.2" y2="464.2" stroke="#000" stroke-width="1.00" />
<line x1="307.3" y1="310.2" x2="307.3" y2="307.2" stroke="#000" stroke-width="1.00" />
<line x1="307.3" y1="462.0" x2="307.3" y2="464.2" stroke="#000" stroke-width="1.00" />
<line x1="314.5" y1="310.2" x2="314.5" y2="307.2" stroke="#000" stroke-width="1.00" />
<line x1="314.5" y1="462.0" x2="314.5" y2="465.5" stroke="#000" stroke-width="1.10" />
<line x1="321.6" y1="310.2" x2="321.6" y2="307.2" stroke="#000" stroke-width="1.00" />
<line x1="321.6" y1="462.0" x2="321.6" y2="464.2" stroke="#000" stroke-width="1.00" />
<line x1="328.8" y1="310.2" x2="328.8" y2="307.2" stroke="#000" stroke-width="1.00" />
<line x1="328.8" y1="462.0" x2="328.8" y2="464.2" stroke="#000" stroke-width="1.00" />
<line x1="335.9" y1="310.2" x2="335.9" y2="307.2" stroke="#000" stroke-width="1.00" />
<line x1="343.0" y1="310.2" x2="343.0" y2="307.2" stroke="#000" stroke-width="1.00" />
<line x1="343.0" y1="462.0" x2="343.0" y2="464.2" stroke="#000" stroke-width="1.00" />
<line x1="350.2" y1="310.2" x2="350.2" y2="307.2" stroke="#000" stroke-width="1.00" />
<line x1="350.2" y1="462.0" x2="350.2" y2="464.2" stroke="#000" stroke-width="1.00" />
<line x1="357.3" y1="310.2" x2="357.3" y2="307.2" stroke="#000" stroke-width="1.00" />
<line x1="357.3" y1="462.0" x2="357.3" y2="465.5" stroke="#000" stroke-width="1.10" />
<line x1="364.5" y1="310.2" x2="364.5" y2="307.2" stroke="#000" stroke-width="1.00" />
<line x1="364.5" y1="462.0" x2="364.5" y2="464.2" stroke="#000" stroke-width="1.00" />
<line x1="371.6" y1="310.2" x2="371.6" y2="307.2" stroke="#000" stroke-width="1.00" />
<line x1="371.6" y1="462.0" x2="371.6" y2="464.2" stroke="#000" stroke-width="1.00" />
<line x1="378.8" y1="310.2" x2="378.8" y2="307.2" stroke="#000" stroke-width="1.00" />
<line x1="378.8" y1="462.0" x2="378.8" y2="471.0" stroke="#000" stroke-width="1.10" />
<line x1="385.9" y1="310.2" x2="385.9" y2="307.2" stroke="#000" stroke-width="1.00" />
<line x1="385.9" y1="462.0" x2="385.9" y2="464.2" stroke="#000" stroke-width="1.00" />
<line x1="393.1" y1="310.2" x2="393.1" y2="307.2" stroke="#000" stroke-width="1.00" />
<line x1="393.1" y1="462.0" x2="393.1" y2="464.2" stroke="#000" stroke-width="1.00" />
<line x1="400.2" y1="310.2" x2="400.2" y2="307.2" stroke="#000" stroke-width="1.00" />
<line x1="400.2" y1="462.0" x2="400.2" y2="465.5" stroke="#000" stroke-width="1.10" />
<line x1="407.4" y1="310.2" x2="407.4" y2="307.2" stroke="#000" stroke-width="1.00" />
<line x1="407.4" y1="462.0" x2="407.4" y2="464.2" stroke="#000" stroke-width="1.00" />
<line x1="414.5" y1="310.2" x2="414.5" y2="307.2" stroke="#000" stroke-width="1.00" />
<line x1="414.5" y1="462.0" x2="414.5" y2="464.2" stroke="#000" stroke-width="1.00" />
<line x1="421.6" y1="310.2" x2="421.6" y2="307.2" stroke="#000" stroke-width="1.00" />
<line x1="428.8" y1="310.2" x2="428.8" y2="307.2" stroke="#000" stroke-width="1.00" />
<line x1="428.8" y1="462.0" x2="428.8" y2="464.2" stroke="#000" stroke-width="1.00" />
<line x1="435.9" y1="310.2" x2="435.9" y2="307.2" stroke="#000" stroke-width="1.00" />
<line x1="435.9" y1="462.0" x2="435.9" y2="464.2" stroke="#000" stroke-width="1.00" />
<text x="99.5" y="471.8" font-family='"Liberation Sans", sans-serif' font-size="7.30" text-anchor="middle" fill="#222">06:00</text>
<text x="122.1" y="478.4" font-family='"Liberation Sans", sans-serif' font-size="7.30" text-anchor="middle" fill="#222">12:00</text>
<text x="142.8" y="471.8" font-family='"Liberation Sans", sans-serif' font-size="7.30" text-anchor="middle" fill="#222">18:00</text>
<text x="165.9" y="487.4" font-family='"Liberation Sans", sans-serif' font-size="9.75" text-anchor="middle" fill="#222">00:00</text>
<text x="136.1" y="499.6" font-family='"Liberation Sans", sans-serif' font-size="14.90" text-anchor="middle" fill="#111">Aug 8</text>
<text x="185.2" y="471.8" font-family='"Liberation Sans", sans-serif' font-size="7.30" text-anchor="middle" fill="#222">06:00</text>
<text x="207.9" y="478.4" font-family='"Liberation Sans", sans-serif' font-size="7.30" text-anchor="middle" fill="#222">12:00</text>
<text x="228.5" y="471.8" font-family='"Liberation Sans", sans-serif' font-size="7.30" text-anchor="middle" fill="#222">18:00</text>
<text x="251.7" y="487.4" font-family='"Liberation Sans", sans-serif' font-size="9.75" text-anchor="middle" fill="#222">00:00</text>
<text x="210.5" y="499.6" font-family='"Liberation Sans", sans-serif' font-size="14.90" text-anchor="middle" fill="#111">Aug 9</text>
<text x="271.0" y="471.8" font-family='"Liberation Sans", sans-serif' font-size="7.30" text-anchor="middle" fill="#222">06:00</text>
<text x="293.6" y="478.4" font-family='"Liberation Sans", sans-serif' font-size="7.30" text-anchor="middle" fill="#222">12:00</text>
<text x="314.3" y="471.8" font-family='"Liberation Sans", sans-serif' font-size="7.30" text-anchor="middle" fill="#222">18:00</text>
<text x="337.4" y="487.4" font-family='"Liberation Sans", sans-serif' font-size="9.75" text-anchor="middle" fill="#222">00:00</text>
<text x="288.8" y="499.6" font-family='"Liberation Sans", sans-serif' font-size="14.90" text-anchor="middle" fill="#111">Aug 10</text>
<text x="356.7" y="471.8" font-family='"Liberation Sans", sans-serif' font-size="7.30" text-anchor="middle" fill="#222">06:00</text>
<text x="379.4" y="478.4" font-family='"Liberation Sans", sans-serif' font-size="7.30" text-anchor="middle" fill="#222">12:00</text>
<text x="400.0" y="471.8" font-family='"Liberation Sans", sans-serif' font-size="7.30" text-anchor="middle" fill="#222">18:00</text>
<text x="423.1" y="487.4" font-family='"Liberation Sans", sans-serif' font-size="9.75" text-anchor="middle" fill="#222">00:00</text>
<text x="383.5" y="499.6" font-family='"Liberation Sans", sans-serif' font-size="14.90" text-anchor="middle" fill="#111">Aug 11</text>
<text x="222.3" y="519.3" font-family='"Liberation Serif", serif' font-size="16.20" text-anchor="start" fill="#111">Time GMT</text>
<text x="139.9" y="299.6" font-family='"Liberation Sans", sans-serif' font-size="12.90" text-anchor="start" fill="#111">Eureka (80</text>
<text x="208.2" y="299.6" font-family='"Liberation Sans", sans-serif' font-size="12.90" text-anchor="start" fill="#111">N),</text>
<text x="229.7" y="299.6" font-family='"Liberation Sans", sans-serif' font-size="12.90" text-anchor="start" fill="#111">Vertical</text>
<text x="278.4" y="299.6" font-family='"Liberation Sans", sans-serif' font-size="12.90" text-anchor="start" fill="#111">Beam,</text>
<text x="319.7" y="299.6" font-family='"Liberation Sans", sans-serif' font-size="12.90" text-anchor="start" fill="#111">August</text>
<text x="364.4" y="299.6" font-family='"Liberation Sans", sans-serif' font-size="12.90" text-anchor="start" fill="#111">8-11,</text>
<text x="397.8" y="299.6" font-family='"Liberation Sans", sans-serif' font-size="12.90" text-anchor="start" fill="#111">2018</text>
<text x="202.9" y="292.6" font-family='"Liberation Sans", sans-serif' font-size="9.60" text-anchor="start" fill="#111">o</text>
<rect x="467.5" y="312.80" width="17.7" height="14.29" fill="#d92323" stroke="rgba(0,0,0,0.18)" stroke-width="0.6"/>
<text x="490.4" y="322.2" font-family='"Liberation Serif", serif' font-size="10.10" text-anchor="start" fill="#222">&gt; 66</text>
<rect x="467.5" y="327.09" width="17.7" height="14.29" fill="#e0506e" stroke="rgba(0,0,0,0.18)" stroke-width="0.6"/>
<text x="488.2" y="336.7" font-family='"Liberation Serif", serif' font-size="10.10" text-anchor="start" fill="#222">64.5– 66</text>
<rect x="467.5" y="341.38" width="17.7" height="14.29" fill="#e87878" stroke="rgba(0,0,0,0.18)" stroke-width="0.6"/>
<text x="488.2" y="351.2" font-family='"Liberation Serif", serif' font-size="10.10" text-anchor="start" fill="#222">63– 64.5</text>
<rect x="467.5" y="355.67" width="17.7" height="14.29" fill="#f09ca4" stroke="rgba(0,0,0,0.18)" stroke-width="0.6"/>
<text x="488.2" y="365.6" font-family='"Liberation Serif", serif' font-size="10.10" text-anchor="start" fill="#222">61.5– 63</text>
<rect x="467.5" y="369.96" width="17.7" height="14.29" fill="#c0a3b1" stroke="rgba(0,0,0,0.18)" stroke-width="0.6"/>
<text x="488.2" y="380.1" font-family='"Liberation Serif", serif' font-size="10.10" text-anchor="start" fill="#222">60– 61.5</text>
<rect x="467.5" y="384.25" width="17.7" height="14.29" fill="#b8b0d8" stroke="rgba(0,0,0,0.18)" stroke-width="0.6"/>
<text x="488.2" y="394.6" font-family='"Liberation Serif", serif' font-size="10.10" text-anchor="start" fill="#222">58.5– 60</text>
<rect x="467.5" y="398.54" width="17.7" height="14.29" fill="#70c0f0" stroke="rgba(0,0,0,0.18)" stroke-width="0.6"/>
<text x="488.2" y="409.1" font-family='"Liberation Serif", serif' font-size="10.10" text-anchor="start" fill="#222">57– 58.5</text>
<rect x="467.5" y="412.83" width="17.7" height="14.29" fill="#0c90e0" stroke="rgba(0,0,0,0.18)" stroke-width="0.6"/>
<text x="488.2" y="423.6" font-family='"Liberation Serif", serif' font-size="10.10" text-anchor="start" fill="#222">55.5– 57</text>
<rect x="467.5" y="427.12" width="17.7" height="14.29" fill="#0a78c4" stroke="rgba(0,0,0,0.18)" stroke-width="0.6"/>
<text x="488.2" y="438.0" font-family='"Liberation Serif", serif' font-size="10.10" text-anchor="start" fill="#222">54– 55.5</text>
<rect x="467.5" y="441.41" width="17.7" height="14.29" fill="#28187c" stroke="rgba(0,0,0,0.18)" stroke-width="0.6"/>
<text x="488.2" y="452.5" font-family='"Liberation Serif", serif' font-size="10.10" text-anchor="start" fill="#222">&lt; 54</text>
<text transform="translate(456.9,384.3) rotate(-90)" text-anchor="middle" font-family='"Liberation Serif", serif' font-size="18.5" fill="#111">Power (dB)</text>
</svg>
</body></html>
